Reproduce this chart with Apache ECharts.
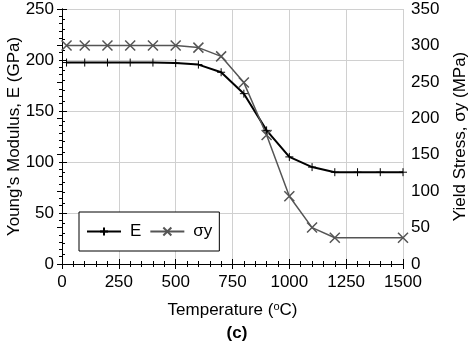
<!DOCTYPE html>
<html><head><meta charset="utf-8">
<script src="https://cdn.jsdelivr.net/npm/echarts@6/dist/echarts.min.js"></script>
<style>html,body{margin:0;padding:0;background:#fff}#c{width:474px;height:347px}</style>
</head><body><div id="c"></div>
<script>
var tempsE = [20,100,200,300,400,500,600,700,800,900,1000,1100,1200,1300,1400,1500];
var youngE = [197.5,197.5,197.5,197.5,197.5,197,195.5,188,167,131,105,95,90,90,90,90];
var tempsS = [20,100,200,300,400,500,600,700,800,900,1000,1100,1200,1500];
var yieldS = [300,300,300,300,300,300,297,285,249,177,93,50,36,36];
var xTicks = [0,250,500,750,1000,1250,1500];

var FONT = '"Liberation Sans", Arial, Helvetica, sans-serif';
var chart = echarts.init(document.getElementById('c'));
function pairs(xs, ys){ return xs.map(function(x,i){return [x, ys[i]];}); }
var tick = {show:true, inside:true, length:5, lineStyle:{color:'#000', width:1}};
var minor = {show:true, splitNumber:5, length:3, lineStyle:{color:'#000', width:1}};
var lbl = {color:'#000', fontSize:17, fontFamily:FONT, formatter:function(v){return String(v);}};
chart.setOption({
  animation:false,
  grid:{left:62, right:71, top:9, bottom:83, outerBoundsMode:'none', containLabel:false},
  legend:{
    left:79, top:212,
    padding:[11,7,11,7],
    borderColor:'#000', borderWidth:1, backgroundColor:'#fff',
    itemWidth:34, itemHeight:10, itemGap:8,
    textStyle:{color:'#000', fontSize:17, fontFamily:FONT, padding:[0,0,0,4]},
    data:['E','σy']
  },
  xAxis:[{
    type:'value', min:0, max:1500, interval:250,
    name:'Temperature ({sup|o}C)', nameLocation:'middle', nameGap:37,
    nameTextStyle:{color:'#000', fontSize:17, fontFamily:FONT,
      rich:{sup:{fontSize:11, verticalAlign:'top', padding:[0,0,8,0], fontFamily:FONT, color:'#000'}}},
    axisLine:{show:true, lineStyle:{color:'#000', width:1}},
    axisTick:tick, minorTick:minor,
    axisLabel:Object.assign({margin:10}, lbl),
    splitLine:{show:true, lineStyle:{color:'#d0d0d0', width:1}}
  },{
    type:'value', min:0, max:1500, interval:250, position:'top',
    axisLine:{show:true, lineStyle:{color:'#000', width:1}},
    axisTick:tick, minorTick:minor, axisLabel:{show:false}, splitLine:{show:false}
  }],
  yAxis:[{
    type:'value', min:0, max:250, interval:50, position:'left',
    name:"Young's Modulus, E (GPa)", nameLocation:'middle', nameGap:39, nameMoveOverlap:false,
    nameTextStyle:{color:'#000', fontSize:17, fontFamily:FONT},
    axisLine:{show:true, lineStyle:{color:'#000', width:1}},
    axisTick:tick, minorTick:minor,
    axisLabel:Object.assign({margin:8}, lbl),
    splitLine:{show:true, lineStyle:{color:'#d0d0d0', width:1}}
  },{
    type:'value', min:0, max:350, interval:50, position:'right',
    name:'Yield Stress, σy (MPa)', nameLocation:'middle', nameGap:49, nameRotate:90,
    nameTextStyle:{color:'#000', fontSize:17, fontFamily:FONT},
    axisLine:{show:true, lineStyle:{color:'#000', width:1}},
    axisTick:tick, minorTick:minor,
    axisLabel:Object.assign({margin:8}, lbl),
    splitLine:{show:false}
  }],
  series:[{
    name:'E', type:'line', xAxisIndex:0, yAxisIndex:0,
    data:pairs(tempsE, youngE),
    symbol:'path://M0,-1L0,1M-1,0L1,0', symbolSize:8, showSymbol:true,
    lineStyle:{color:'#000', width:2},
    itemStyle:{color:'#000', borderColor:'#000', borderWidth:1}
  },{
    name:'σy', type:'line', xAxisIndex:0, yAxisIndex:1,
    data:pairs(tempsS, yieldS),
    symbol:'path://M-1,-1L1,1M-1,1L1,-1', symbolSize:10, showSymbol:true,
    lineStyle:{color:'#555', width:1.5},
    itemStyle:{color:'#555', borderColor:'#555', borderWidth:1.5}
  }],
  graphic:[{
    type:'text', left:'center', top:325,
    style:{text:'(c)', fontSize:17, fontWeight:'bold', fontFamily:FONT, fill:'#000'}
  }]
});
</script></body></html>
